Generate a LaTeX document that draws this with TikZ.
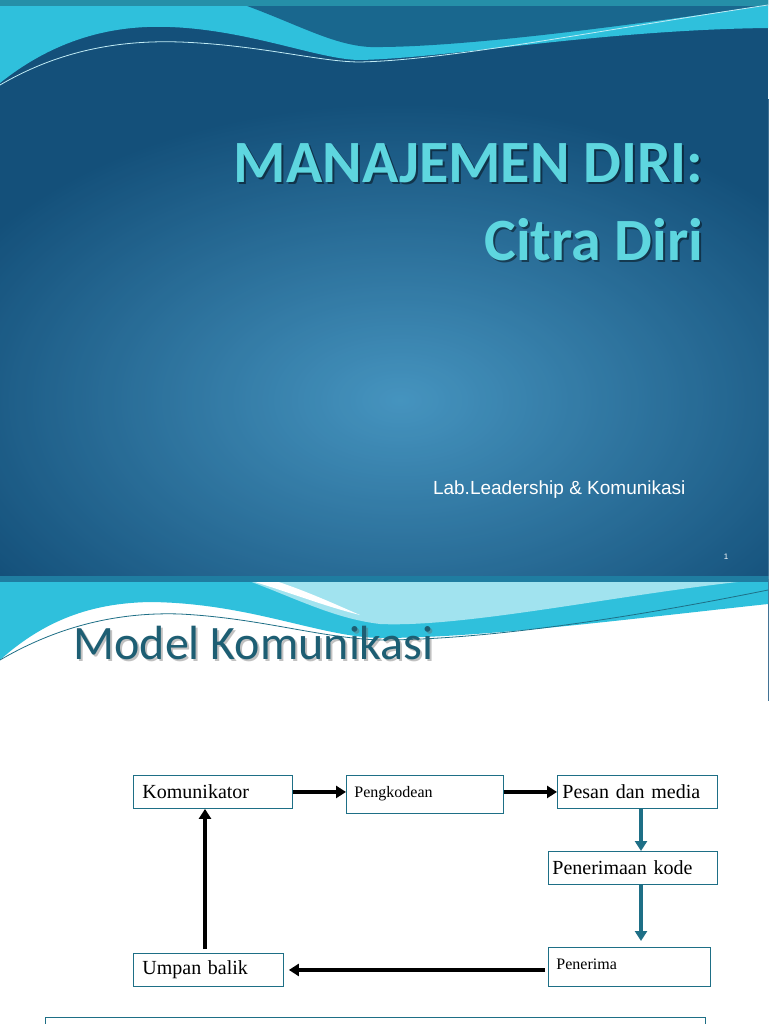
\documentclass[tikz,border=0pt]{standalone}
\usepackage{fontspec}
\setmainfont{Liberation Serif}
\newfontfamily\carfont{Carlito}
\newfontfamily\arsfont{Liberation Sans}
\usetikzlibrary{arrows.meta,shadows}
\definecolor{bgdark}{HTML}{14507A}
\definecolor{bglight}{HTML}{3F9BCB}
\definecolor{cyanw}{HTML}{2FC0DC}
\definecolor{titlec}{HTML}{5ED6DF}
\definecolor{tealb}{HTML}{1E6F86}
\definecolor{modelc}{HTML}{1D5E73}
\tikzset{
 bx/.style={draw=tealb, line width=0.9pt, minimum height=33pt, inner xsep=9pt, inner ysep=4pt, font=\fontsize{20}{23}\selectfont},
 bxs/.style={draw=tealb, line width=0.9pt, font=\fontsize{16}{18}\selectfont, align=left},
 blk/.style={line width=3.5pt, -{Triangle[length=10pt,width=12pt]}},
 tl/.style={tealb, line width=3.5pt, -{Triangle[length=10pt,width=12pt]}},
}
\begin{document}
\begin{tikzpicture}[x=1pt,y=-1pt]
\useasboundingbox (0,0) rectangle (768,1024);
% slide 1 background
\fill[bgdark] (0,0) rectangle (768,576);
\shade[inner color=bglight!90!white, outer color=bgdark, opacity=0.8] (-100,100) rectangle (900,700);
\fill[white] (0,576) rectangle (768,1024);
% top waves slide 1
\fill[cyanw] (0,0) -- (0,83) .. controls (60,35) and (120,25) .. (170,27) .. controls (250,30) and (320,60) .. (360,60) .. controls (450,58) and (600,30) .. (768,28) -- (768,0) -- cycle;
\fill[bgdark!80!cyanw] (230,0) .. controls (290,20) and (330,45) .. (370,47) .. controls (450,48) and (600,30) .. (768,5) -- (768,0) -- cycle;
\fill[tealb!60!cyanw] (0,0) rectangle (768,6);
\draw[white!70!cyanw, line width=0.8pt] (0,85) .. controls (60,50) and (120,40) .. (180,42) .. controls (260,45) and (320,62) .. (360,62) .. controls (450,60) and (600,30) .. (768,5);
% title
\node[anchor=east, text=black, opacity=0.45, font=\carfont\bfseries\fontsize{60}{64}\selectfont] (t1s) at (709,165) {MANAJEMEN DIRI:};
\node[anchor=east, text=black, opacity=0.45, font=\carfont\bfseries\fontsize{60}{64}\selectfont] (t2s) at (709,242) {Citra Diri};
\node[anchor=east, text=titlec, font=\carfont\bfseries\fontsize{60}{64}\selectfont] (t1) at (707,163) {MANAJEMEN DIRI:};
\node[anchor=east, text=titlec, font=\carfont\bfseries\fontsize{60}{64}\selectfont] (t2) at (707,240) {Citra Diri};
\node[anchor=east, text=white, font=\arsfont\fontsize{19}{22}\selectfont] (lab) at (689,490) {Lab.Leadership \& Komunikasi};
\node[text=white, font=\arsfont\fontsize{8}{9}\selectfont] (pg) at (726,557) {1};
% slide 2
\fill[cyanw] (0,576) -- (0,660) .. controls (50,615) and (100,603) .. (150,602) .. controls (250,603) and (320,637) .. (380,638) .. controls (480,638) and (620,620) .. (768,604) -- (768,576) -- cycle;
\fill[white!55!cyanw] (235,576) .. controls (290,595) and (330,618) .. (380,624) .. controls (470,628) and (640,590) .. (768,579) -- (768,576) -- cycle;
\fill[white] (235,576) .. controls (290,592) and (320,605) .. (360,615) .. controls (330,602) and (300,588) .. (260,576) -- cycle;
\fill[bgdark!60!cyanw] (0,576) rectangle (768,582);
\draw[tealb, line width=0.8pt] (0,660) .. controls (60,625) and (120,612) .. (180,614) .. controls (260,618) and (320,638) .. (380,640) .. controls (480,640) and (620,620) .. (768,590);
\node[anchor=west, text=black!60, opacity=0.4, font=\carfont\fontsize{48}{52}\selectfont] (mks) at (72,645) {Model Komunikasi};
\node[anchor=west, text=modelc, font=\carfont\fontsize{48}{52}\selectfont] (mk) at (70,643) {Model Komunikasi};
% diagram
\node[bx, anchor=north west, minimum width=159pt, text width=141pt, align=left] (kom) at (133,775) {Komunikator};
\node[bxs, anchor=north west, minimum width=157pt, minimum height=38pt, text width=141pt, inner xsep=8pt, inner ysep=4pt] (pen) at (346,775) {\raisebox{6pt}{Pengkodean}};
\node[bx, anchor=north west, minimum width=160pt, text width=150pt, inner xsep=5pt, align=left] (pes) at (557,775) {Pesan dan media};
\node[bx, anchor=north west, minimum width=169pt, text width=161pt, inner xsep=4pt, align=left] (prk) at (548,851) {Penerimaan kode};
\node[bxs, anchor=north west, minimum width=162pt, minimum height=39pt, text width=146pt, inner xsep=8pt, inner ysep=4pt] (pnr) at (548,947) {\raisebox{6pt}{Penerima}};
\node[bx, anchor=north west, minimum width=150pt, text width=132pt, align=left] (umb) at (133,953) {Umpan balik};
\draw[blk] (kom.east) -- (pen.west |- kom.east);
\draw[blk] (pen.east |- pes.east) -- (pes.west);
\coordinate (a1) at (641,808);
\coordinate (a2) at (641,941);
\draw[tl] (a1) -- (a1 |- prk.north);
\draw[tl] (a1 |- prk.south) -- (a2);
\draw[blk] ([xshift=-3pt]pnr.west |- umb.east) -- ([xshift=5pt]umb.east);
\coordinate (u1) at (205,949);
\draw[blk] (u1) -- (u1 |- kom.south);
\draw[tealb, line width=0.9pt] (45,1030) -- (45,1017) -- (705,1017) -- (705,1030);
\end{tikzpicture}
\end{document}
